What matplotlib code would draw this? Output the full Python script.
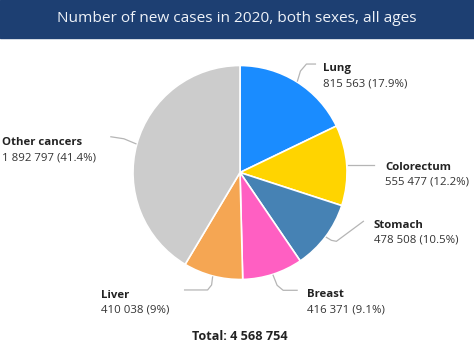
import numpy as np
import matplotlib.pyplot as plt
from matplotlib.patches import Rectangle

plt.rcParams['font.family'] = ['Open Sans', 'DejaVu Sans']

sites = ["Lung", "Colorectum", "Stomach", "Breast", "Liver", "Other cancers"]
cases = [815563, 555477, 478508, 416371, 410038, 1892797]
shares = ["17.9%", "12.2%", "10.5%", "9.1%", "9%", "41.4%"]
colors = ["#1a8cff", "#ffd400", "#4682b4", "#ff5fc2", "#f5a653", "#cccccc"]

W, H = 474, 349
cx, cy, r = 240, H - 172.5, 107

# label anchor (left x, top y in px from top), leader offsets in px (down is +)
label_pos = [(323, 63), (385, 162), (374, 220), (307, 289), (101, 290), (2, 137)]
leaders = [
    [(3, -10), (9, -17), (18, -17)],
    [(26, 0)],
    [(5, 3), (10, 4), (37, -16)],
    [(4, 10), (10, 15), (24, 15)],
    [(-1, 8), (-5, 13), (-28, 13)],
    [(-12, -5), (-25, -7)],
]

def fmt(v):
    return "{:,}".format(v).replace(",", " ")

fig = plt.figure(figsize=(W / 100, H / 100), dpi=100)
ax = fig.add_axes([0, 0, 1, 1])

ax.add_patch(Rectangle((0, H - 38), W, 38, color="#1d3f72", zorder=0))
ax.text(W / 2, H - 19, "Number of new cases in 2020, both sexes, all ages",
        color="#eef2f8", fontsize=11.1, ha='center', va='center')

wedges, _ = ax.pie(cases, colors=colors, startangle=90, counterclock=False,
                   center=(cx, cy), radius=r, frame=True,
                   wedgeprops=dict(edgecolor="white", linewidth=1.2))
ax.set_xlim(0, W)
ax.set_ylim(0, H)
ax.set_aspect('equal')
ax.axis('off')

for i, w in enumerate(wedges):
    ang = np.deg2rad((w.theta1 + w.theta2) / 2)
    x0 = cx + (r + 1) * np.cos(ang)
    y0 = cy + (r + 1) * np.sin(ang)
    xs = [x0] + [x0 + dx for dx, dy in leaders[i]]
    ys = [y0] + [y0 - dy for dx, dy in leaders[i]]
    ax.plot(xs, ys, color="#b5b5b5", lw=0.9, solid_joinstyle='round')
    lx, ly = label_pos[i]
    ax.text(lx, H - ly, sites[i], fontsize=8.2, fontweight='bold',
            color="#222222", ha='left', va='top')
    ax.text(lx, H - ly - 15, "{} ({})".format(fmt(cases[i]), shares[i]),
            fontsize=8.2, color="#333333", ha='left', va='top')

ax.text(cx, H - 336, "Total: " + fmt(sum(cases)), fontsize=9.1, fontweight='bold',
        color="#222222", ha='center', va='center')

fig.savefig("out.png", dpi=100)
